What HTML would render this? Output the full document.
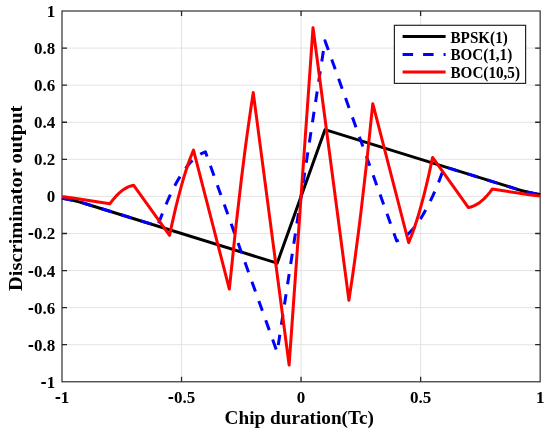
<!DOCTYPE html>
<html><head><meta charset="utf-8"><style>
html,body{margin:0;padding:0;background:#fff;}
svg{display:block;}
</style></head><body>
<svg width="550" height="434" viewBox="0 0 550 434">
<rect x="0" y="0" width="550" height="434" fill="#fff"/>
<path d="M181.54 11.00V381.80M301.07 11.00V381.80M420.61 11.00V381.80M62.00 344.72H540.15M62.00 307.64H540.15M62.00 270.56H540.15M62.00 233.48H540.15M62.00 196.40H540.15M62.00 159.32H540.15M62.00 122.24H540.15M62.00 85.16H394.4M525.6 85.16H540.15M62.00 48.08H540.15" stroke="#e3e3e3" stroke-width="1" fill="none"/>
<path d="M181.54 381.80v-5M181.54 11.00v5M301.07 381.80v-5M301.07 11.00v5M420.61 381.80v-5M420.61 11.00v5M62.00 344.72h5M540.15 344.72h-5M62.00 307.64h5M540.15 307.64h-5M62.00 270.56h5M540.15 270.56h-5M62.00 233.48h5M540.15 233.48h-5M62.00 196.40h5M540.15 196.40h-5M62.00 159.32h5M540.15 159.32h-5M62.00 122.24h5M540.15 122.24h-5M62.00 85.16h5M540.15 85.16h-5M62.00 48.08h5M540.15 48.08h-5" stroke="#262626" stroke-width="1.3" fill="none"/>
<rect x="62.0" y="11.0" width="478.15" height="370.80" stroke="#262626" stroke-width="1.15" fill="none"/>
<path d="M62.00 198.25 L67.98 199.30 L73.95 200.57 L79.93 202.08 L84.71 203.45 L277.17 263.14 L324.98 129.66 L517.44 189.35 L522.22 190.72 L528.20 192.23 L534.17 193.50 L540.15 194.55" stroke="#000000" stroke-width="3" fill="none" stroke-linejoin="round" />
<path d="M62.00 198.25 L66.78 199.07 L72.76 200.30 L77.54 201.45 L83.52 203.09 L157.63 226.06 L163.61 210.30 L167.19 201.74 L169.58 196.40 L171.97 191.36 L175.56 184.35 L177.95 180.05 L181.54 174.15 L185.12 168.92 L187.51 165.81 L189.91 162.99 L193.49 159.32 L197.08 156.32 L199.47 154.68 L201.86 153.35 L205.44 151.90 L277.17 352.14 L324.98 40.66 L396.70 240.90 L400.29 239.45 L402.68 238.12 L405.07 236.48 L408.66 233.48 L412.24 229.81 L414.64 226.99 L418.22 222.21 L420.61 218.65 L423.00 214.79 L426.59 208.45 L428.98 203.85 L432.57 196.40 L434.96 191.06 L438.54 182.50 L444.52 166.74 L519.83 190.05 L529.39 192.50 L534.17 193.50 L540.15 194.55" stroke="#0000ff" stroke-width="3" fill="none" stroke-linejoin="round" stroke-dasharray="10.5 10"/>
<path d="M62.00 196.86 L66.78 197.31 L72.76 198.07 L109.81 203.82 L113.40 199.14 L115.79 196.40 L119.38 192.84 L121.77 190.84 L124.16 189.13 L127.75 187.13 L130.14 186.17 L133.72 185.28 L169.58 235.33 L171.97 224.14 L175.56 208.45 L177.95 198.74 L181.54 185.28 L183.93 177.04 L187.51 165.81 L189.91 159.06 L193.49 150.05 L229.35 289.10 L235.33 231.63 L241.31 179.71 L244.89 151.24 L247.28 133.36 L250.87 108.22 L253.26 92.58 L289.12 365.11 L313.03 27.69 L348.89 300.22 L352.48 276.42 L354.87 259.44 L358.45 232.29 L360.84 213.09 L366.82 161.17 L372.80 103.70 L408.66 242.75 L412.24 233.74 L414.64 226.99 L418.22 215.76 L420.61 207.52 L424.20 194.06 L426.59 184.35 L428.98 174.04 L432.57 157.47 L468.43 207.52 L470.82 207.00 L474.40 205.67 L477.99 203.67 L480.38 201.96 L483.97 198.85 L486.36 196.40 L489.94 192.17 L492.33 188.98 L529.39 194.73 L535.37 195.49 L540.15 195.94" stroke="#ff0000" stroke-width="3" fill="none" stroke-linejoin="round" />
<g font-family='"Liberation Serif", serif' font-weight="bold" font-size="17" fill="#000" ><text x="62.00" y="403.2" text-anchor="middle"><tspan font-family="DejaVu Serif" font-size="15" baseline-shift="1">-</tspan>1</text><text x="181.54" y="403.2" text-anchor="middle"><tspan font-family="DejaVu Serif" font-size="15" baseline-shift="1">-</tspan>0.5</text><text x="301.07" y="403.2" text-anchor="middle">0</text><text x="420.61" y="403.2" text-anchor="middle">0.5</text><text x="540.15" y="403.2" text-anchor="middle">1</text><text x="55.2" y="387.80" text-anchor="end"><tspan font-family="DejaVu Serif" font-size="15" baseline-shift="1">-</tspan>1</text><text x="55.2" y="350.72" text-anchor="end"><tspan font-family="DejaVu Serif" font-size="15" baseline-shift="1">-</tspan>0.8</text><text x="55.2" y="313.64" text-anchor="end"><tspan font-family="DejaVu Serif" font-size="15" baseline-shift="1">-</tspan>0.6</text><text x="55.2" y="276.56" text-anchor="end"><tspan font-family="DejaVu Serif" font-size="15" baseline-shift="1">-</tspan>0.4</text><text x="55.2" y="239.48" text-anchor="end"><tspan font-family="DejaVu Serif" font-size="15" baseline-shift="1">-</tspan>0.2</text><text x="55.2" y="202.40" text-anchor="end">0</text><text x="55.2" y="165.32" text-anchor="end">0.2</text><text x="55.2" y="128.24" text-anchor="end">0.4</text><text x="55.2" y="91.16" text-anchor="end">0.6</text><text x="55.2" y="54.08" text-anchor="end">0.8</text><text x="55.2" y="17.00" text-anchor="end">1</text></g>
<text x="224.6" y="423.9" textLength="149.4" lengthAdjust="spacingAndGlyphs" font-family='"Liberation Serif", serif' font-weight="bold" font-size="18.5" fill="#000" >Chip duration(Tc)</text>
<text transform="translate(21.6 290.9) rotate(-90)" textLength="185.3" lengthAdjust="spacingAndGlyphs" font-family='"Liberation Serif", serif' font-weight="bold" font-size="19" fill="#000" >Discriminator output</text>
<rect x="394.4" y="25.3" width="131.20" height="58.10" fill="#fff" stroke="#262626" stroke-width="1.2"/>
<path d="M402.6 36.6H445.6" stroke="#000000" stroke-width="3" fill="none" />
<text x="450.5" y="42.50" textLength="57.3" lengthAdjust="spacingAndGlyphs" font-family='"Liberation Serif", serif' font-weight="bold" font-size="16" fill="#000" >BPSK(1)</text>
<path d="M402.6 54.4H445.6" stroke="#0000ff" stroke-width="3" fill="none" stroke-dasharray="10.5 10"/>
<text x="450.5" y="60.30" textLength="61.7" lengthAdjust="spacingAndGlyphs" font-family='"Liberation Serif", serif' font-weight="bold" font-size="16" fill="#000" >BOC(1,1)</text>
<path d="M402.6 72.1H445.6" stroke="#ff0000" stroke-width="3" fill="none" />
<text x="450.5" y="78.00" textLength="69.5" lengthAdjust="spacingAndGlyphs" font-family='"Liberation Serif", serif' font-weight="bold" font-size="16" fill="#000" >BOC(10,5)</text>
</svg>
</body></html>
